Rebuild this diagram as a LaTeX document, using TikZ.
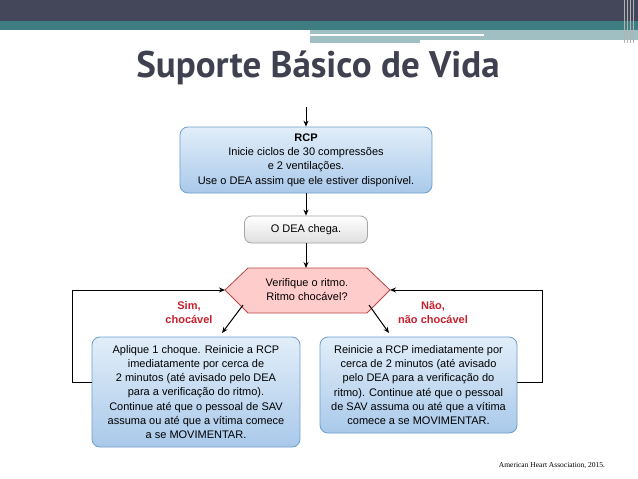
\documentclass[tikz,border=0pt]{standalone}
\usepackage{fontspec}
\setmainfont{Liberation Sans}
\newfontfamily\titlefont{PT Sans}
\newfontfamily\citefont{Liberation Serif}
\usetikzlibrary{shapes.misc,shapes.geometric,arrows.meta}
\definecolor{hdr}{HTML}{44465A}
\definecolor{teal}{HTML}{3E7E82}
\definecolor{lteal}{HTML}{A0BFC2}
\definecolor{titc}{HTML}{3F4150}
\definecolor{bluetop}{HTML}{E2EEF9}
\definecolor{bluebot}{HTML}{A9C9EA}
\definecolor{blueedge}{HTML}{6E9DCB}
\definecolor{redlab}{HTML}{C8202E}
\tikzset{
 bluebox/.style={draw=blueedge,line width=0.8pt,rounded corners=8pt,top color=bluetop,bottom color=bluebot,align=center,font=\fontsize{11}{14.3}\selectfont,inner sep=4pt},
 graybox/.style={draw=gray!70,line width=0.8pt,rounded corners=7pt,top color=white,bottom color=gray!25,align=center,font=\fontsize{11}{14}\selectfont},
 hexbox/.style={draw=red!45!gray,line width=0.8pt,fill=red!20},
 arr/.style={line width=1pt,-{Stealth[length=6pt,width=5pt]}},
 lab/.style={text=redlab,font=\bfseries\fontsize{11}{14}\selectfont,align=center}
}
\begin{document}
\begin{tikzpicture}[x=1pt,y=-1pt]
\useasboundingbox (0,0) rectangle (638,479);
\fill[white] (0,0) rectangle (638,479);
\fill[hdr] (0,0) rectangle (638,21);
\fill[teal] (0,21) rectangle (638,30);
\fill[lteal] (310,30) rectangle (638,43);
\fill[white] (310,33.5) rectangle (484,35.5);
\fill[white] (420,40) rectangle (638,43);
\foreach \x in {624,627,630,633} \fill[gray!60] (\x,0) rectangle (\x+1,43);
\node[text=titc,font=\titlefont\bfseries\fontsize{37}{40}\selectfont] (title) at (318,68) {Suporte Básico de Vida};
\coordinate (start) at (306,107);
\node[bluebox,minimum width=252pt,minimum height=66pt] (rcp) at (306,160) {\textbf{RCP}\\Inicie ciclos de 30 compressões\\e 2 ventilações.\\Use o DEA assim que ele estiver disponível.};
\node[graybox,minimum width=123pt,minimum height=27pt] (dea) at (306,229.5) {O DEA chega.};
\coordinate (hl) at (225,290); \coordinate (hr) at (390,290);
\draw[hexbox] (225,290) -- (248,268) -- (367,268) -- (390,290) -- (367,313) -- (248,313) -- cycle;
\node[align=center,font=\fontsize{11}{14}\selectfont] (hex) at (307,290) {Verifique o ritmo.\\Ritmo chocável?};
\node[bluebox,minimum width=208pt,minimum height=110pt] (lb) at (196,392) {Aplique 1 choque. Reinicie a RCP\\imediatamente por cerca de\\2 minutos (até avisado pelo DEA\\para a verificação do ritmo).\\Continue até que o pessoal de SAV\\assuma ou até que a vítima comece\\a se MOVIMENTAR.};
\node[bluebox,minimum width=197pt,minimum height=96pt] (rb) at (418.5,385) {Reinicie a RCP imediatamente por\\cerca de 2 minutos (até avisado\\pelo DEA para a verificação do\\ritmo). Continue até que o pessoal\\de SAV assuma ou até que a vítima\\comece a se MOVIMENTAR.};
\draw[arr] (start) -- (rcp.north);
\draw[arr] (rcp.south) -- (dea.north);
\draw[arr] (dea.south) -- (306,268);
\coordinate (sl) at (243,305); \coordinate (sr) at (369,305);
\draw[arr] (sl) -- (222,333);
\draw[arr] (sr) -- (389,333);
\draw[arr] (lb.west |- 0,382) -- (72,382) -- (72,290) -- (hl);
\draw[arr] (rb.east |- 0,382) -- (542,382) -- (542,290) -- (hr);
\node[lab] (sim) at (189,313) {Sim,\\chocável};
\node[lab] (nao) at (433,313) {Não,\\não chocável};
\node[font=\citefont\fontsize{7.5}{9}\selectfont] (cite) at (552,466) {American Heart Association, 2015.};
\end{tikzpicture}
\end{document}
